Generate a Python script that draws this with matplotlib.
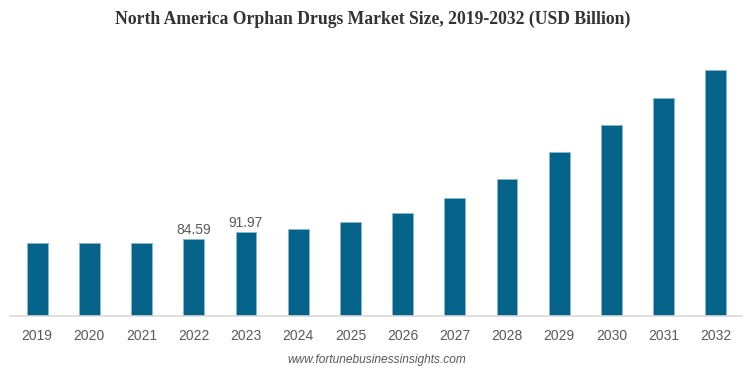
import matplotlib.pyplot as plt

# Daten (USD Billion)
years = ["2019", "2020", "2021", "2022", "2023", "2024", "2025",
         "2026", "2027", "2028", "2029", "2030", "2031", "2032"]
values = [80.3, 80.3, 80.4, 84.59, 91.97, 95.3, 103.0,
          112.9, 130.0, 150.2, 179.9, 209.9, 239.9, 270.0]
labeled = {"2022": "84.59", "2023": "91.97"}

fig = plt.figure(figsize=(7.45, 3.72), dpi=100)
ax = fig.add_axes([10 / 745, 56 / 372, 732 / 745, 266 / 372])

x = list(range(len(years)))
ax.bar(x, values, width=0.40, color="#05638a", edgecolor="#8ab8cc", linewidth=0.6)

for i, yr in enumerate(years):
    if yr in labeled:
        ax.text(i, values[i] + 2.5, labeled[yr], ha="center", va="bottom",
                fontsize=10, color="#595959", family="Liberation Sans")

ax.set_xlim(-0.52, 13.5)
ax.set_ylim(0, 292.3)
ax.set_xticks(x)
ax.set_xticklabels(years, fontsize=10, color="#595959", family="Liberation Sans")
ax.tick_params(axis="x", length=0, pad=9)
ax.set_yticks([])

for s in ["top", "right", "left"]:
    ax.spines[s].set_visible(False)
ax.spines["bottom"].set_color("#d9d9d9")
ax.spines["bottom"].set_linewidth(1.2)

fig.text(0.5, 1 - 19 / 372, "North America Orphan Drugs Market Size, 2019-2032 (USD Billion)",
         ha="center", va="center", fontsize=12.7, fontweight="bold",
         color="#333333", family="Liberation Serif")
fig.text(377 / 745, 1 - 360 / 372, "www.fortunebusinessinsights.com",
         ha="center", va="center", fontsize=8.6, style="italic",
         color="#595959", family="Liberation Sans")

fig.savefig("out.png", dpi=100)
